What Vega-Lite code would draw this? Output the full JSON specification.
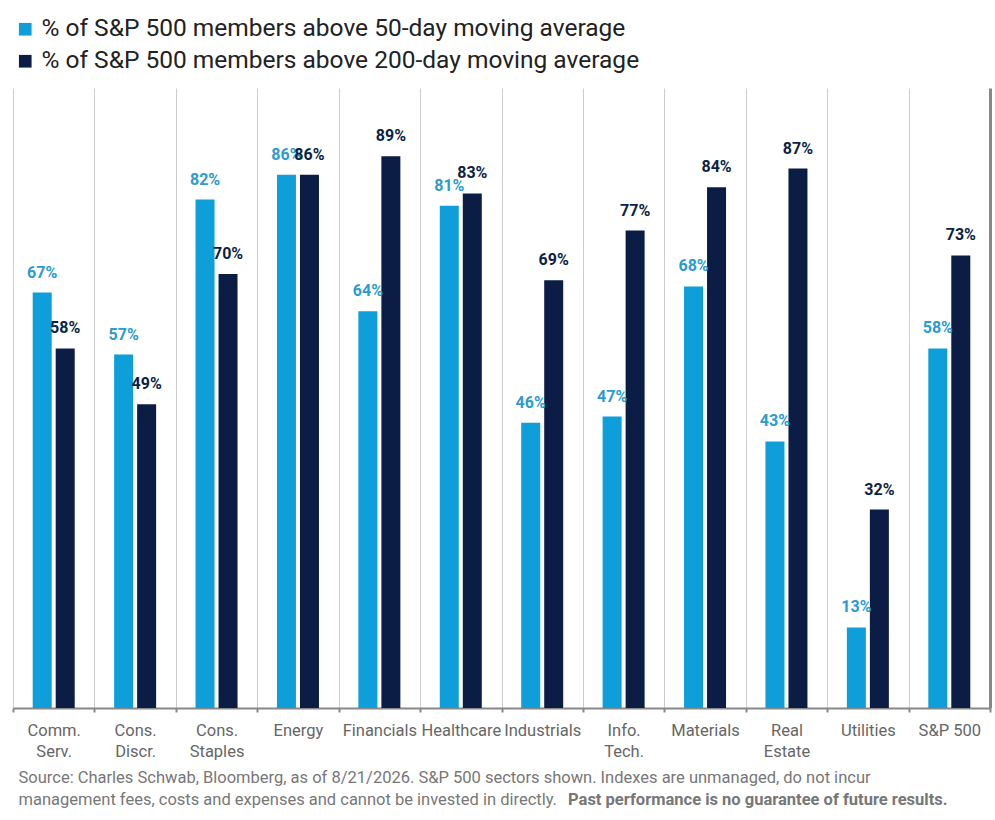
{
  "$schema": "https://vega.github.io/schema/vega-lite/v6.json",
  "width": 977,
  "height": 620,
  "padding": {"left": 12, "top": 17, "right": 6, "bottom": 4},
  "background": "white",
  "config": {
    "font": "Roboto",
    "view": {"stroke": null}
  },
  "data": {
    "values": [
      {"sector": "Comm. Serv.", "series": "% of S&P 500 members above 50-day moving average", "pct": 67},
      {"sector": "Comm. Serv.", "series": "% of S&P 500 members above 200-day moving average", "pct": 58},
      {"sector": "Cons. Discr.", "series": "% of S&P 500 members above 50-day moving average", "pct": 57},
      {"sector": "Cons. Discr.", "series": "% of S&P 500 members above 200-day moving average", "pct": 49},
      {"sector": "Cons. Staples", "series": "% of S&P 500 members above 50-day moving average", "pct": 82},
      {"sector": "Cons. Staples", "series": "% of S&P 500 members above 200-day moving average", "pct": 70},
      {"sector": "Energy", "series": "% of S&P 500 members above 50-day moving average", "pct": 86},
      {"sector": "Energy", "series": "% of S&P 500 members above 200-day moving average", "pct": 86},
      {"sector": "Financials", "series": "% of S&P 500 members above 50-day moving average", "pct": 64},
      {"sector": "Financials", "series": "% of S&P 500 members above 200-day moving average", "pct": 89},
      {"sector": "Healthcare", "series": "% of S&P 500 members above 50-day moving average", "pct": 81},
      {"sector": "Healthcare", "series": "% of S&P 500 members above 200-day moving average", "pct": 83},
      {"sector": "Industrials", "series": "% of S&P 500 members above 50-day moving average", "pct": 46},
      {"sector": "Industrials", "series": "% of S&P 500 members above 200-day moving average", "pct": 69},
      {"sector": "Info. Tech.", "series": "% of S&P 500 members above 50-day moving average", "pct": 47},
      {"sector": "Info. Tech.", "series": "% of S&P 500 members above 200-day moving average", "pct": 77},
      {"sector": "Materials", "series": "% of S&P 500 members above 50-day moving average", "pct": 68},
      {"sector": "Materials", "series": "% of S&P 500 members above 200-day moving average", "pct": 84},
      {"sector": "Real Estate", "series": "% of S&P 500 members above 50-day moving average", "pct": 43},
      {"sector": "Real Estate", "series": "% of S&P 500 members above 200-day moving average", "pct": 87},
      {"sector": "Utilities", "series": "% of S&P 500 members above 50-day moving average", "pct": 13},
      {"sector": "Utilities", "series": "% of S&P 500 members above 200-day moving average", "pct": 32},
      {"sector": "S&P 500", "series": "% of S&P 500 members above 50-day moving average", "pct": 58},
      {"sector": "S&P 500", "series": "% of S&P 500 members above 200-day moving average", "pct": 73}
    ]
  },
  "title": {
    "text": "Past performance is no guarantee of future results.",
    "orient": "bottom",
    "anchor": "start",
    "fontSize": 16.5,
    "fontWeight": "bold",
    "color": "#777777",
    "dx": 556,
    "dy": -16,
    "offset": 0
  },
  "encoding": {
    "x": {
      "field": "sector",
      "type": "nominal",
      "sort": null,
      "scale": {"paddingInner": 0, "paddingOuter": 0},
      "axis": {
        "title": [
          "Source: Charles Schwab, Bloomberg, as of 8/21/2026. S&P 500 sectors shown. Indexes are unmanaged, do not incur",
          "management fees, costs and expenses and cannot be invested in directly."
        ],
        "titleAnchor": "start",
        "titleAlign": "left",
        "titleX": 5,
        "titleFontSize": 16.5,
        "titleFontWeight": "normal",
        "titleColor": "#777777",
        "titleLineHeight": 22,
        "titlePadding": 10,
        "labelAngle": 0,
        "labelExpr": "datum.label == 'S&P 500' ? datum.label : split(datum.label, ' ')",
        "labelFontSize": 16.5,
        "labelColor": "#666666",
        "labelLineHeight": 21,
        "labelPadding": 10,
        "labelBaseline": "top",
        "tickBand": "extent",
        "tickSize": 4,
        "tickWidth": 2,
        "tickColor": "#888888",
        "domainColor": "#888888",
        "domainWidth": 2,
        "grid": true,
        "gridColor": {"condition": {"test": "datum.value === 'S&P 500' && !datum.extra", "value": "#888888"}, "value": "#cccccc"},
        "gridWidth": {"condition": {"test": "datum.value === 'S&P 500' && !datum.extra", "value": 3}, "value": 1}
      }
    },
    "xOffset": {
      "field": "series",
      "type": "nominal",
      "sort": ["% of S&P 500 members above 50-day moving average", "% of S&P 500 members above 200-day moving average"],
      "scale": {"paddingInner": 0.174, "paddingOuter": 0.857}
    },
    "y": {
      "field": "pct",
      "type": "quantitative",
      "scale": {"domain": [0, 100]},
      "axis": null
    }
  },
  "layer": [
    {
      "mark": {"type": "bar"},
      "encoding": {
        "color": {
          "field": "series",
          "type": "nominal",
          "scale": {
            "domain": ["% of S&P 500 members above 50-day moving average", "% of S&P 500 members above 200-day moving average"],
            "range": ["#0e9fda", "#0b1d45"]
          },
          "legend": {
            "title": null,
            "orient": "top",
            "direction": "vertical",
            "symbolType": "square",
            "symbolSize": 160,
            "symbolStrokeWidth": 0,
            "labelFontSize": 24.5,
            "labelColor": "#222222",
            "labelLimit": 0,
            "labelOffset": 4,
            "rowPadding": 7,
            "padding": 0,
            "offset": 15
          }
        }
      }
    },
    {
      "mark": {"type": "text", "baseline": "bottom", "dy": -12, "fontSize": 16, "fontWeight": "bold", "text": {"expr": "datum.pct + '%'"}},
      "encoding": {
        "color": {
          "condition": {"test": "datum.series === '% of S&P 500 members above 50-day moving average'", "value": "#2b9bd0"},
          "value": "#0c1f44"
        }
      }
    }
  ]
}
